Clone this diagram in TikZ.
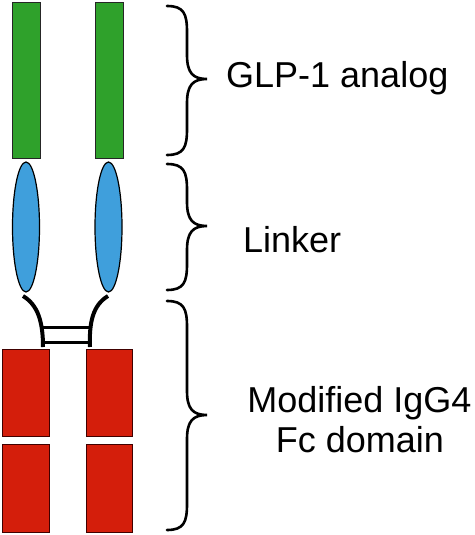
\documentclass[tikz,border=0pt]{standalone}
\usepackage{fontspec}
\setmainfont{Liberation Sans}
\definecolor{glpgreen}{HTML}{2FA12B}
\definecolor{linkblue}{HTML}{3F9FDC}
\definecolor{fcred}{HTML}{D41E0B}
\tikzset{
  glp/.style={fill=glpgreen,draw=black!85,line width=0.9pt},
  lnk/.style={fill=linkblue,draw=black,line width=1.2pt},
  fc/.style={fill=fcred,draw=black!75!red,line width=1pt},
  hinge/.style={draw=black,line width=4pt},
  bridge/.style={draw=black,line width=3pt},
  bracecurve/.style={draw=black,line width=2.6pt,line cap=round},
  lbl/.style={font=\fontsize{36}{36}\selectfont,inner sep=0pt}
}
% brace: #1 top y, #2 tip y, #3 bottom y
\newcommand\mybrace[3]{%
  \draw[bracecurve] (167,#1) .. controls (184,#1) and (187,{#1+8}) .. (187,{#1+26})
    -- (187,{#2-24}) .. controls (187,{#2-6}) and (193,#2) .. (207,#2)
    .. controls (193,#2) and (187,{#2+6}) .. (187,{#2+24})
    -- (187,{#3-26}) .. controls (187,{#3-8}) and (184,#3) .. (167,#3);}
\begin{document}
\begin{tikzpicture}[x=1pt,y=-1pt]
\useasboundingbox (0,0) rectangle (474,535);
% GLP-1 bars
\draw[glp] (12,2) rectangle (40,158);
\draw[glp] (95,2) rectangle (123,158);
% linkers
\draw[lnk] (26,227) ellipse [x radius=13.5, y radius=65];
\draw[lnk] (108.5,227) ellipse [x radius=13.5, y radius=65];
% hinge
\coordinate (hl1) at (23,296);
\coordinate (hl2) at (43,347);
\coordinate (hr1) at (108,296);
\coordinate (hr2) at (90,347);
\draw[hinge] (hl1) .. controls (38,305) and (43,322) .. (hl2);
\draw[hinge] (hr1) .. controls (93,305) and (89,322) .. (hr2);
\draw[bridge] (43,327) -- (90,327);
\draw[bridge] (43,342) -- (90,342);
% Fc domains
\draw[fc] (2,349) rectangle (49,436);
\draw[fc] (86,349) rectangle (132,436);
\draw[fc] (2,444) rectangle (49,532);
\draw[fc] (86,444) rectangle (132,532);
% braces
\mybrace{6}{79}{155}
\mybrace{164}{226}{290}
\mybrace{301}{415}{530}
% labels
\node[lbl,anchor=base west] (glp) at (226,88) {GLP-1 analog};
\node[lbl,anchor=base west] (lk) at (243,252) {Linker};
\node[lbl,anchor=base] (m1) at (359.5,412) {Modified IgG4};
\node[lbl,anchor=base] (m2) at (360,452) {Fc domain};
\end{tikzpicture}
\end{document}
